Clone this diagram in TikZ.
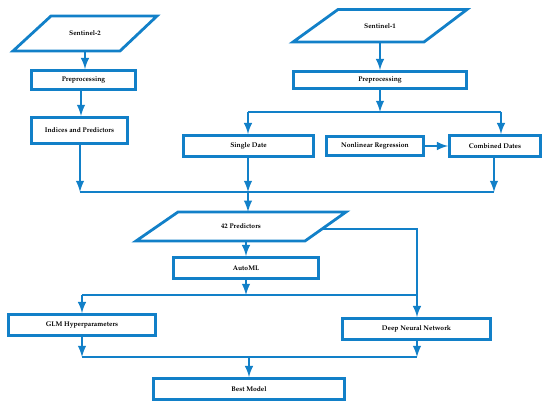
\documentclass[tikz,border=0pt]{standalone}
\usepackage[T1]{fontenc}
\usepackage{mathpazo}
\usetikzlibrary{calc}
\definecolor{flowblue}{RGB}{18,128,200}
\tikzset{
  box/.style={draw=flowblue, line width=2.8pt, rectangle, minimum height=21pt,
    inner sep=1pt, font=\fontsize{6.8}{8}\selectfont\bfseries},
  slant/.style={rectangle, inner sep=1pt, font=\fontsize{6.8}{8}\selectfont\bfseries},
  arr/.style={draw=flowblue, line width=2.8pt, -latex},
  bus/.style={draw=flowblue, line width=2.8pt, line join=miter},
}
\begin{document}
\begin{tikzpicture}[x=1pt,y=-1pt]
%\draw[help lines] (0,0) grid[step=50] (550,409);
\useasboundingbox (0,0) rectangle (550,409);
% inputs
\draw[bus] (51,16) -- (157,16) -- (120,51) -- (13,51) -- cycle;
\node[slant, minimum width=100pt, minimum height=35pt] (s2) at (85,33.5) {Sentinel-2};
\draw[bus] (338,9.5) -- (467,9.5) -- (424,42) -- (293,42) -- cycle;
\node[slant, minimum width=120pt, minimum height=32.5pt] (s1) at (380,25.75) {Sentinel-1};
\node[box, minimum width=104pt, minimum height=19pt] (pre2) at (83.5,80) {Preprocessing};
\node[box, minimum width=96pt, minimum height=26pt] (idx) at (79.5,130.5) {Indices and Predictors};
\node[box, minimum width=173pt, minimum height=17pt] (pre1) at (380,80) {Preprocessing};
\node[box, minimum width=130pt] (single) at (248.5,146) {Single Date};
\node[box, minimum width=97pt, minimum height=19pt] (nonlin) at (375,146) {Nonlinear Regression};
\node[box, minimum width=91pt] (comb) at (495,146) {Combined Dates};
% modelling
\draw[bus] (178,212) -- (346,212) -- (305,241) -- (136,241) -- cycle;
\node[slant, minimum width=130pt, minimum height=29pt] (p42) at (241,226.5) {42 Predictors};
\node[box, minimum width=145pt] (automl) at (246,268) {AutoML};
\node[box, minimum width=147pt] (glm) at (82,325) {GLM Hyperparameters};
\node[box, minimum width=148pt] (dnn) at (416.5,329) {Deep Neural Network};
\node[box, minimum width=191pt] (best) at (249,389) {Best Model};
% junctions
\coordinate (b1l) at (80,192);
\coordinate (b1r) at (494,192);
\coordinate (b2l) at (248,112);
\coordinate (b2r) at (501,112);
\coordinate (b3l) at (82,295);
\coordinate (b3r) at (417,295);
\coordinate (b4l) at (82,357);
\coordinate (b4r) at (417,357);
\coordinate (p42out) at (322,229);
\coordinate (dnnin) at (417,229);
% Sentinel-2 branch
\draw[arr] (s2.south) -- (s2.south |- pre2.north);
\draw[arr] (81,90) -- (81,116);
\draw[arr] (idx.south -| b1l) -- (b1l);
% Sentinel-1 branch
\draw[arr] (s1.south) -- (pre1.north);
\draw[arr] (pre1.south) -- (pre1.south |- b2l);
\draw[bus] (b2l) -- (b2r);
\draw[arr] (b2l) -- (b2l |- single.north);
\draw[arr] (b2r) -- (b2r |- comb.north);
\draw[arr] (nonlin.east) -- (comb.west);
\draw[arr] (single.south -| b2l) -- (b2l |- b1l);
\draw[arr] (comb.south -| b1r) -- (b1r);
\draw[bus] (b1l) -- (b1r);
% predictors and models
\draw[arr] (b2l |- b1l) -- (b2l |- p42.north);
\draw[arr] (automl.north |- p42.south) -- (automl.north);
\draw[bus] (p42out) -- (dnnin) -- (b3r);
\draw[arr] (automl.south) -- (automl.south |- b3l);
\draw[bus] (b3l) -- (b3r);
\draw[arr] (b3r) -- (dnn.north -| b3r);
\draw[arr] (b3l) -- (glm.north);
\draw[arr] (glm.south) -- (b4l);
\draw[arr] (dnn.south -| b4r) -- (b4r);
\draw[bus] (b4l) -- (b4r);
\draw[arr] (best.north |- b4l) -- (best.north);
\end{tikzpicture}
\end{document}
